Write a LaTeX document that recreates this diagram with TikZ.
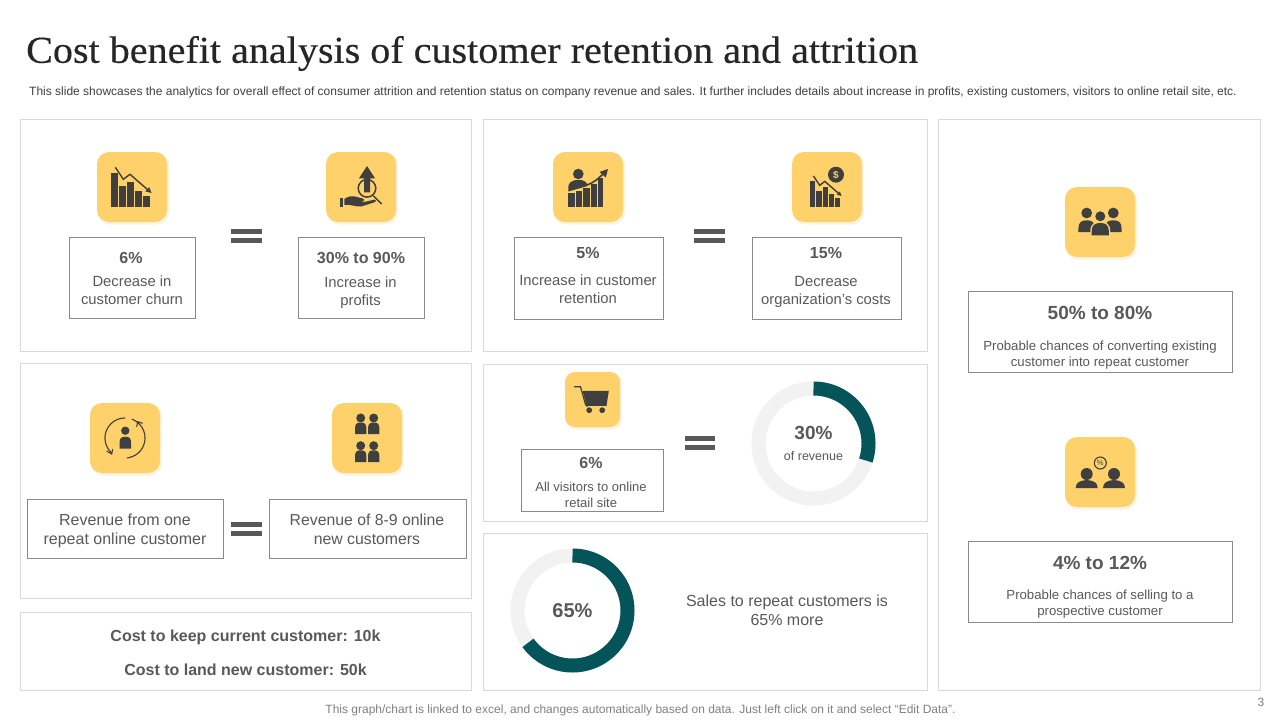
\documentclass[tikz,border=0pt]{standalone}
\usepackage{fontspec}
\setmainfont{Liberation Sans}
\newfontfamily\titlefont[FakeStretch=1.055,FakeBold=0.35]{Liberation Serif}
\definecolor{ink}{HTML}{3F3F3F}
\definecolor{txtgray}{HTML}{595959}
\definecolor{panelline}{HTML}{D9D9D9}
\definecolor{boxline}{HTML}{8A8A8A}
\definecolor{footgray}{HTML}{808080}
\definecolor{tile}{HTML}{FED16B}
\definecolor{tileshadow}{HTML}{FAF3E2}
\definecolor{teal}{HTML}{04545A}
\definecolor{ringlight}{HTML}{F2F2F2}
\definecolor{eqgray}{HTML}{595959}
\tikzset{
  x=1pt,y=-1pt,
  panelbox/.style={draw=panelline,line width=0.9pt,fill=white,inner sep=0pt,outer sep=0pt},
  linebox/.style={draw=boxline,line width=0.8pt,fill=white,inner sep=0pt,outer sep=0pt},
  eqbar/.style={fill=eqgray,draw=none,inner sep=0pt,outer sep=0pt},
  lbl/.style={text=txtgray,align=center,inner sep=0pt,outer sep=0pt},
  ringarc/.style={line width=14pt,line cap=butt},
  thinicon/.style={draw=ink,line width=1.1pt,fill=none},
}
\newcommand{\rectnode}[6]{%
  \pgfmathsetmacro{\rcx}{(#3+#5)/2-0.1}\pgfmathsetmacro{\rcy}{(#4+#6)/2-0.5}%
  \pgfmathsetmacro{\rw}{#5-#3}\pgfmathsetmacro{\rh}{#6-#4}%
  \node[#2,minimum width=\rw pt,minimum height=\rh pt] (#1) at (\rcx,\rcy) {};}
\newcommand{\eqsign}[4]{% name, x1, x2, y of first bar
  \pgfmathsetmacro{\ya}{#4+5.5}\pgfmathsetmacro{\yb}{#4+9}\pgfmathsetmacro{\yc}{#4+14.5}%
  \rectnode{#1a}{eqbar}{#2}{#4}{#3}{\ya}%
  \rectnode{#1b}{eqbar}{#2}{\yb}{#3}{\yc}}
\newcommand{\tilebg}[2]{% size, radius (at scope origin)
  \pgfmathsetmacro{\th}{#1/2}%
  \fill[tileshadow,rounded corners=#2 pt] (-\th+1,-\th+1) rectangle (\th+2,\th+2.5);
  \fill[tile,rounded corners=#2 pt] (-\th,-\th) rectangle (\th,\th);}
\newcommand{\humanfig}[7][ink]{% colour; cx, head y, head r, half-width, body top, body bottom
  \pgfmathsetmacro{\fl}{#2-#5}\pgfmathsetmacro{\fr}{#2+#5}%
  \fill[#1] (#2,#3) circle[radius=#4 pt];
  \fill[#1] (\fl,#7) -- (\fl,#6+#5) .. controls (\fl,#6+0.2*#5) and (#2-0.6*#5,#6) .. (#2,#6)
     .. controls (#2+0.6*#5,#6) and (\fr,#6+0.2*#5) .. (\fr,#6+#5) -- (\fr,#7) -- cycle;}
\newcommand{\fallingbars}{%
  \fill[ink] (-21,-13.7) rectangle (-14,19.7);
  \fill[ink] (-13,-1) rectangle (-6,19.7);
  \fill[ink] (-5,-5.3) rectangle (2,19.7);
  \fill[ink] (3,4) rectangle (10,19.7);
  \fill[ink] (11,9) rectangle (17.5,19.7);
  \draw[ink,line width=1.4pt] (-16.7,-19.7) -- (-8.7,-7.7) -- (-2,-12.7) -- (17.5,4.3);
  \fill[ink] (19.6,6) -- (13.2,4.4) -- (17.2,0.2) -- cycle;}
\begin{document}
\begin{tikzpicture}
\useasboundingbox (0,0) rectangle (1280,720);
\fill[white] (0,0) rectangle (1280,720);

% title and notes
\node[anchor=west,inner sep=0pt,text=black!85] (title) at (26,53.5)
  {\titlefont\fontsize{38}{40}\selectfont Cost benefit analysis of customer retention and attrition};
\node[anchor=west,inner sep=0pt,text=ink] (subtitle) at (29,92.5)
  {\fontsize{12}{14}\selectfont This slide showcases the analytics for overall effect of consumer attrition and retention status on company revenue and sales. It further includes details about increase in profits, existing customers, visitors to online retail site, etc.};
\node[inner sep=0pt,text=footgray] (footer) at (640.5,710.5)
  {\fontsize{12}{14}\selectfont This graph/chart is linked to excel, and changes automatically based on data. Just left click on it and select “Edit Data”.};
\node[inner sep=0pt,text=footgray] (pageno) at (1261,702) {\fontsize{12}{14}\selectfont 3};

% panels
\rectnode{pa}{panelbox}{21}{120}{472}{352}
\rectnode{pb}{panelbox}{484}{120}{928}{352}
\rectnode{pc}{panelbox}{939}{120}{1261}{691}
\rectnode{pd}{panelbox}{21}{364}{472}{599}
\rectnode{pe}{panelbox}{484}{365}{928}{522}
\rectnode{pf}{panelbox}{484}{534}{928}{691}
\rectnode{pg}{panelbox}{21}{613}{472}{691}

% text boxes
\rectnode{b1}{linebox}{69}{238}{195}{319}
\rectnode{b2}{linebox}{298}{238}{424}{319}
\rectnode{b3}{linebox}{514}{238}{663}{320}
\rectnode{b4}{linebox}{752}{238}{901}{320}
\rectnode{b5}{linebox}{27}{500}{223}{559}
\rectnode{b6}{linebox}{269}{500}{466}{559}
\rectnode{b7}{linebox}{521}{450}{663}{512}
\rectnode{b8}{linebox}{968}{292}{1232}{373}
\rectnode{b9}{linebox}{968}{542}{1232}{623}

% equals signs
\eqsign{eqa}{231}{262}{229}
\eqsign{eqb}{694}{725}{229}
\eqsign{eqc}{231}{262}{522}
\eqsign{eqd}{685}{715}{436}

% icon 1: falling bars
\begin{scope}[shift={(132,187)}]
  \tilebg{70}{12}
  \fallingbars
\end{scope}
% icon 2: hand, magnifier, arrow
\begin{scope}[shift={(361,187)}]
  \tilebg{70}{12}
  \draw[ink,line width=1.5pt] (6,1.3) circle[radius=8.8pt];
  \draw[ink,line width=1.5pt] (12.3,8.7) -- (20.7,17);
  \fill[ink] (6,-21) -- (14,-8.7) -- (9,-8.7) -- (9,5.3) -- (3,5.3) -- (3,-8.7) -- (-2,-8.7) -- cycle;
  \fill[ink] (-21,11.3) rectangle (-17.7,19.7);
  \fill[ink] (-16.7,12) .. controls (-12,9) and (-9,8.5) .. (-6,9.5) -- (2,11.5)
     .. controls (4,12) and (4,14) .. (1,14) -- (-4,14) -- (4,14.8) -- (14,12.5)
     .. controls (16,13) and (15,15) .. (13,15.5) -- (0,19.5) .. controls (-6,20) and (-10,17) .. (-16.7,18) -- cycle;
\end{scope}
% icon 3: person and rising bars
\begin{scope}[shift={(588,187)}]
  \tilebg{70}{12}
  \fill[ink] (-9.7,-13) circle[radius=5.3pt];
  \fill[ink] (-19.7,4.5) -- (-19.7,0) .. controls (-19.7,-4) and (-16,-6.5) .. (-12,-7) -- (-7,-7)
     .. controls (-3,-6) and (-1,-5) .. (-0.5,-1) -- cycle;
  \fill[ink] (-19.7,5.5) rectangle (-13.5,19.7);
  \fill[ink] (-12.3,3.5) rectangle (-6,19.7);
  \fill[ink] (-4.8,1) rectangle (1.5,19.7);
  \fill[ink] (2.7,-3) rectangle (8.7,19.7);
  \fill[ink] (10,-9) rectangle (15.3,19.7);
  \draw[ink,line width=1.6pt] (-1,-2) .. controls (5,-4) and (10,-8) .. (15,-13);
  \fill[ink] (20,-18) -- (17.8,-9.5) -- (11.5,-15) -- cycle;
\end{scope}
% icon 4: bars with dollar
\begin{scope}[shift={(827,187)}]
  \tilebg{70}{12}
  \begin{scope}[shift={(-0.6,4.3)},scale=0.78]
    \fallingbars
  \end{scope}
  \fill[ink] (9,-12.3) circle[radius=8pt];
  \node[text=tile,inner sep=0pt,font=\bfseries\fontsize{10}{10}\selectfont] (dollar) at (9,-12.3) {\$};
\end{scope}
% icon 5: person in rotating arrows
\begin{scope}[shift={(125,438)}]
  \tilebg{70}{12}
  \humanfig{0.3}{-7.3}{4.2}{5.8}{-1.3}{10.7}
  \draw[thinicon] plot[domain=0:-138,samples=40] ({20*sin(\x)},{-20*cos(\x)});
  \draw[thinicon] (-18.3,13) -- (-13.3,16) -- (-12.3,11);
  \draw[thinicon] plot[domain=175:20,samples=40] ({20*sin(\x)},{-20*cos(\x)});
  \draw[thinicon] (11.7,-11.3) -- (12.7,-16.3) -- (17.7,-14.7);
\end{scope}
% icon 6: four figures
\begin{scope}[shift={(367,438)}]
  \tilebg{70}{12}
  \humanfig{-6.3}{-20}{4.5}{5.7}{-15.5}{-4}
  \humanfig{6.7}{-20}{4.5}{5.7}{-15.5}{-4}
  \humanfig{-6.3}{7.7}{4.5}{5.7}{12.3}{24}
  \humanfig{6.7}{7.7}{4.5}{5.7}{12.3}{24}
\end{scope}
% icon 7: cart
\begin{scope}[shift={(592.5,399.5)}]
  \tilebg{55}{10}
  \draw[ink,line width=1.2pt] (-18.3,-12.7) -- (-12,-12.7) -- (-7,5) -- (-5,7);
  \fill[ink] (-10,-8.7) -- (16.3,-8.7) -- (14,6.3) -- (-6,6.3) -- cycle;
  \fill[ink] (-3.3,10.7) circle[radius=2.9pt];
  \fill[ink] (9.7,10.7) circle[radius=2.9pt];
\end{scope}
% icon 8: three figures
\begin{scope}[shift={(1100,222)}]
  \tilebg{70}{12}
  \humanfig{-13.3}{-9}{5.4}{8.3}{-1.7}{10}
  \humanfig{13.3}{-9}{5.4}{8.3}{-1.7}{10}
  \humanfig[tile]{0.3}{-5.7}{6.3}{10}{-0.3}{14.5}
  \humanfig{0.3}{-5.7}{5}{8.6}{1}{13.3}
\end{scope}
% icon 9: two figures and percent
\begin{scope}[shift={(1100,472)}]
  \tilebg{70}{12}
  \draw[ink,line width=1.1pt] (0.3,-9) circle[radius=6pt];
  \node[text=ink,inner sep=0pt,font=\fontsize{7.5}{8}\selectfont] (pct) at (0.3,-9) {\%};
  \fill[ink] (-13.3,2) circle[radius=6pt];
  \fill[ink] (14,2) circle[radius=6pt];
  \fill[ink] (-24.3,16) .. controls (-24.3,10.5) and (-20,8.5) .. (-13.3,8) .. controls (-6.5,8.5) and (-2.3,10.5) .. (-2.3,16) -- cycle;
  \fill[ink] (3,16) .. controls (3,10.5) and (7.3,8.5) .. (14,8) .. controls (20.7,8.5) and (25,10.5) .. (25,16) -- cycle;
\end{scope}

% donut charts
\fill[ringlight,even odd rule] (813.5,443.5) circle[radius=62pt] circle[radius=48pt];
\draw[teal,ringarc] plot[domain=0:108,samples=60] ({813.5+55*sin(\x)},{443.5-55*cos(\x)});
\fill[ringlight,even odd rule] (572.5,610.5) circle[radius=62pt] circle[radius=48pt];
\draw[teal,ringarc] plot[domain=0:234,samples=100] ({572.5+55*sin(\x)},{610.5-55*cos(\x)});

% labels
\node[lbl,font=\bfseries\fontsize{16}{18}\selectfont] (t1a) at (131,258) {6\%};
\node[lbl,font=\fontsize{14.8}{18}\selectfont] (t1b) at (132,290.5) {Decrease in\\customer churn};
\node[lbl,font=\bfseries\fontsize{16}{18}\selectfont] (t2a) at (361,258) {30\% to 90\%};
\node[lbl,font=\fontsize{14.8}{18}\selectfont] (t2b) at (360.5,292.5) {Increase in\\profits};
\node[lbl,font=\bfseries\fontsize{16}{18}\selectfont] (t3a) at (588,253) {5\%};
\node[lbl,font=\fontsize{14.8}{18}\selectfont] (t3b) at (588,289.5) {Increase in customer\\retention};
\node[lbl,font=\bfseries\fontsize{16}{18}\selectfont] (t4a) at (826,253) {15\%};
\node[lbl,font=\fontsize{14.8}{18}\selectfont] (t4b) at (826,291.5) {Decrease\\organization’s costs};
\node[lbl,font=\fontsize{16}{19}\selectfont] (t5) at (125,531) {Revenue from one\\repeat online customer};
\node[lbl,font=\fontsize{15.8}{19}\selectfont] (t6) at (367,529.5) {Revenue of 8-9 online\\new customers};
\node[lbl,font=\bfseries\fontsize{16}{18}\selectfont] (t7a) at (591,463) {6\%};
\node[lbl,font=\fontsize{13}{16}\selectfont] (t7b) at (591,495) {All visitors to online\\retail site};
\node[lbl,font=\bfseries\fontsize{19}{22}\selectfont] (t8a) at (813.5,433) {30\%};
\node[lbl,font=\fontsize{12.5}{14}\selectfont] (t8b) at (813.5,456.5) {of revenue};
\node[lbl,font=\bfseries\fontsize{20}{22}\selectfont] (t9) at (572.5,610.5) {65\%};
\node[lbl,font=\fontsize{16}{19}\selectfont] (t10) at (787,610) {Sales to repeat customers is\\65\% more};
\node[lbl,font=\bfseries\fontsize{16}{18}\selectfont] (t11) at (245.5,637.5) {Cost to keep current customer: 10k};
\node[lbl,font=\bfseries\fontsize{16}{18}\selectfont] (t12) at (245.5,670) {Cost to land new customer: 50k};
\node[lbl,font=\bfseries\fontsize{19}{22}\selectfont] (t13a) at (1100,313) {50\% to 80\%};
\node[lbl,font=\fontsize{13.2}{16}\selectfont] (t13b) at (1100,355.5) {Probable chances of converting existing\\customer into repeat customer};
\node[lbl,font=\bfseries\fontsize{19}{22}\selectfont] (t14a) at (1100,563) {4\% to 12\%};
\node[lbl,font=\fontsize{13.2}{16}\selectfont] (t14b) at (1100,604.5) {Probable chances of selling to a\\prospective customer};
\end{tikzpicture}
\end{document}
